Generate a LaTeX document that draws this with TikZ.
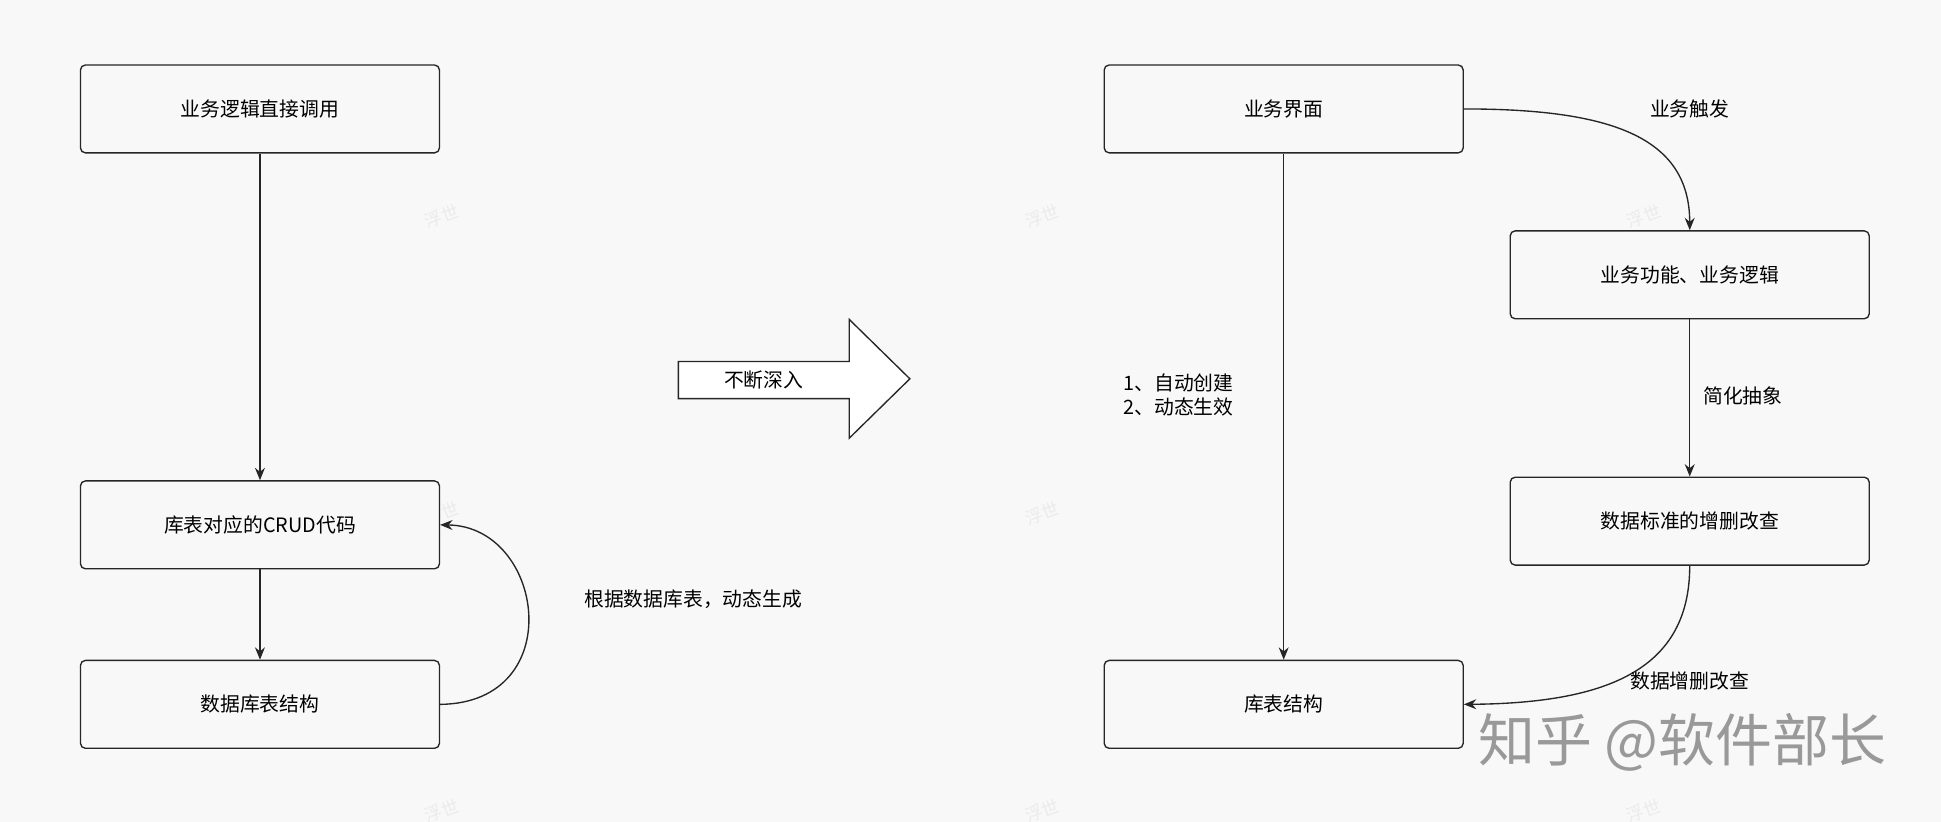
\documentclass[tikz,border=0pt]{standalone}
\usepackage{fontspec}
\setmainfont{Noto Sans CJK SC}
\usetikzlibrary{arrows.meta,shapes.arrows}
\definecolor{bg}{HTML}{F8F8F8}
\begin{document}
\begin{tikzpicture}[x=1pt,y=-1pt,
  box/.style={draw=black!85,fill=bg,rounded corners=4pt,line width=1.1pt,minimum width=290pt,minimum height=71pt,font=\fontsize{16}{19}\selectfont},
  conn/.style={-{Stealth[length=10pt,width=8pt]},line width=1.1pt,black!85},
  lbl/.style={font=\fontsize{16}{20}\selectfont},
  wm/.style={font=\fontsize{14}{16}\selectfont,black!8,rotate=20}]
\fill[bg] (0,0) rectangle (1568,664);
\useasboundingbox (0,0) rectangle (1568,664);
\foreach \p in {(357,175),(357,415),(357,655),(842,175),(842,415),(842,655),(1328,175),(1328,415),(1328,655)} \node[wm] at \p {浮世};
\node[box] (a1) at (210,88) {业务逻辑直接调用};
\node[box] (a2) at (210,424) {库表对应的CRUD代码};
\node[box] (a3) at (210,569) {数据库表结构};
\draw[conn] (a1) -- (a2);
\draw[conn] (a2) -- (a3);
\draw[conn] (a3.east) .. controls (460,568) and (440,425) .. (a2.east);
\node[lbl] (l1) at (560,484) {根据数据库表，动态生成};
\draw[line width=1.1pt,black!85,fill=white] (548,292) -- (686,292) -- (686,258) -- (735,306) -- (686,354) -- (686,322) -- (548,322) -- cycle;
\node[lbl] (l2) at (617,307) {不断深入};
\node[box] (b1) at (1037,88) {业务界面};
\node[box] (b2) at (1037,569) {库表结构};
\node[box] (c1) at (1365,222) {业务功能、业务逻辑};
\node[box] (c2) at (1365,421) {数据标准的增删改查};
\draw[conn] (b1) -- (b2);
\node[lbl,align=left,anchor=west] (l3) at (904,319) {1、自动创建\\2、动态生效};
\draw[conn] (b1.east) .. controls (1300,88) and (1365,110) .. (c1.north);
\node[lbl] (l4) at (1365,88) {业务触发};
\draw[conn] (c1) -- (c2);
\node[lbl] (l5) at (1408,320) {简化抽象};
\draw[conn] (c2.south) .. controls (1365,540) and (1300,568) .. (b2.east);
\node[lbl] (l6) at (1365,550) {数据增删改查};
\node[font=\fontsize{46}{52}\selectfont,black!40] (w) at (1359,600) {知乎 @软件部长};
\end{tikzpicture}
\end{document}
